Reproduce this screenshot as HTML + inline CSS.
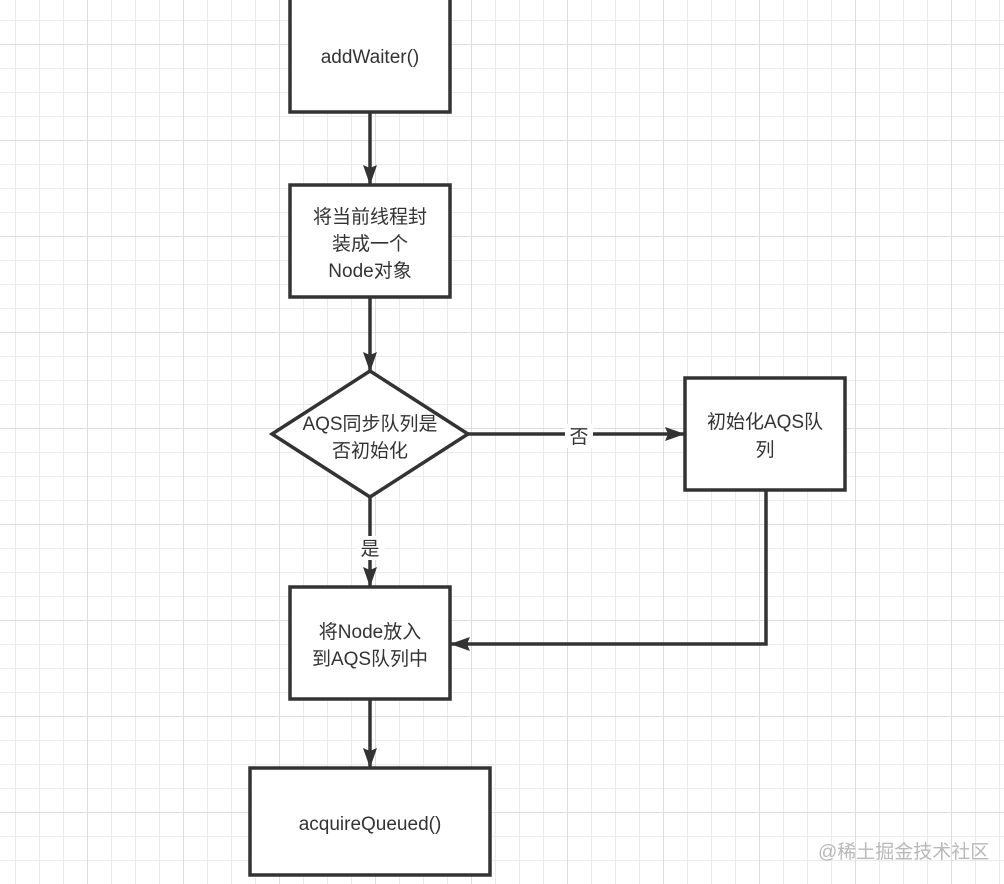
<!DOCTYPE html>
<html><head><meta charset="utf-8"><style>
html,body{margin:0;padding:0;background:#fff;}
body{width:1004px;height:884px;overflow:hidden;position:relative;
background-image:
linear-gradient(to right,#dddddd 1px,transparent 1px),
linear-gradient(to bottom,#dddddd 1px,transparent 1px),
linear-gradient(to right,#ebebeb 1px,transparent 1px),
linear-gradient(to bottom,#ebebeb 1px,transparent 1px);
background-size:96px 96px,96px 96px,24px 24px,24px 24px;
background-position:87px 0,0 44px,15px 0,0 20px;}
svg{position:absolute;left:0;top:0;}
text{font-family:"Liberation Sans","Noto Sans CJK SC",sans-serif;font-size:19px;fill:#333;}
</style></head><body>
<svg width="1004" height="884" viewBox="0 0 1004 884">
<defs>
<marker id="b" viewBox="0 0 20 14" markerWidth="20" markerHeight="14" refX="19" refY="7" orient="auto" markerUnits="userSpaceOnUse"><path d="M0,0 L20,7 L0,14 L3,7 Z" fill="#333"/></marker></defs>
<g fill="#fff" stroke="#333" stroke-width="3.5">
<rect x="290" y="-3" width="160" height="115"/>
<rect x="290" y="185" width="160" height="112"/>
<polygon points="370,371 468,434 370,497 272,434"/>
<rect x="685" y="378" width="160" height="112"/>
<rect x="290" y="587" width="160" height="112"/>
<rect x="250" y="768" width="240" height="107"/>
</g>
<g stroke="#333" stroke-width="3.5" fill="none">
<line x1="370" y1="112" x2="370" y2="184" marker-end="url(#b)"/>
<line x1="370" y1="297" x2="370" y2="371" marker-end="url(#b)"/>
<line x1="468" y1="434" x2="684" y2="434" marker-end="url(#b)"/>
<polyline points="766,490 766,644 451,644" marker-end="url(#b)"/>
<line x1="370" y1="497" x2="370" y2="586" marker-end="url(#b)"/>
<line x1="370" y1="699" x2="370" y2="767" marker-end="url(#b)"/>
</g>
<rect x="565" y="424" width="28" height="24" fill="#fff"/>
<rect x="357" y="536" width="28" height="24" fill="#fff"/>
<g text-anchor="middle">
<text x="370" y="63">addWaiter()</text>
<text x="370" y="223">将当前线程封</text>
<text x="370" y="250">装成一个</text>
<text x="370" y="277">Node对象</text>
<text x="370" y="430">AQS同步队列是</text>
<text x="370" y="457">否初始化</text>
<text x="579" y="443">否</text>
<text x="370" y="555">是</text>
<text x="765" y="428">初始化AQS队</text>
<text x="765" y="456">列</text>
<text x="370" y="638">将Node放入</text>
<text x="370" y="665">到AQS队列中</text>
<text x="370" y="830">acquireQueued()</text>
</g>
<text x="818" y="858" style="font-size:19px;fill:#b8b8b8">@稀土掘金技术社区</text>
</svg>
</body></html>
